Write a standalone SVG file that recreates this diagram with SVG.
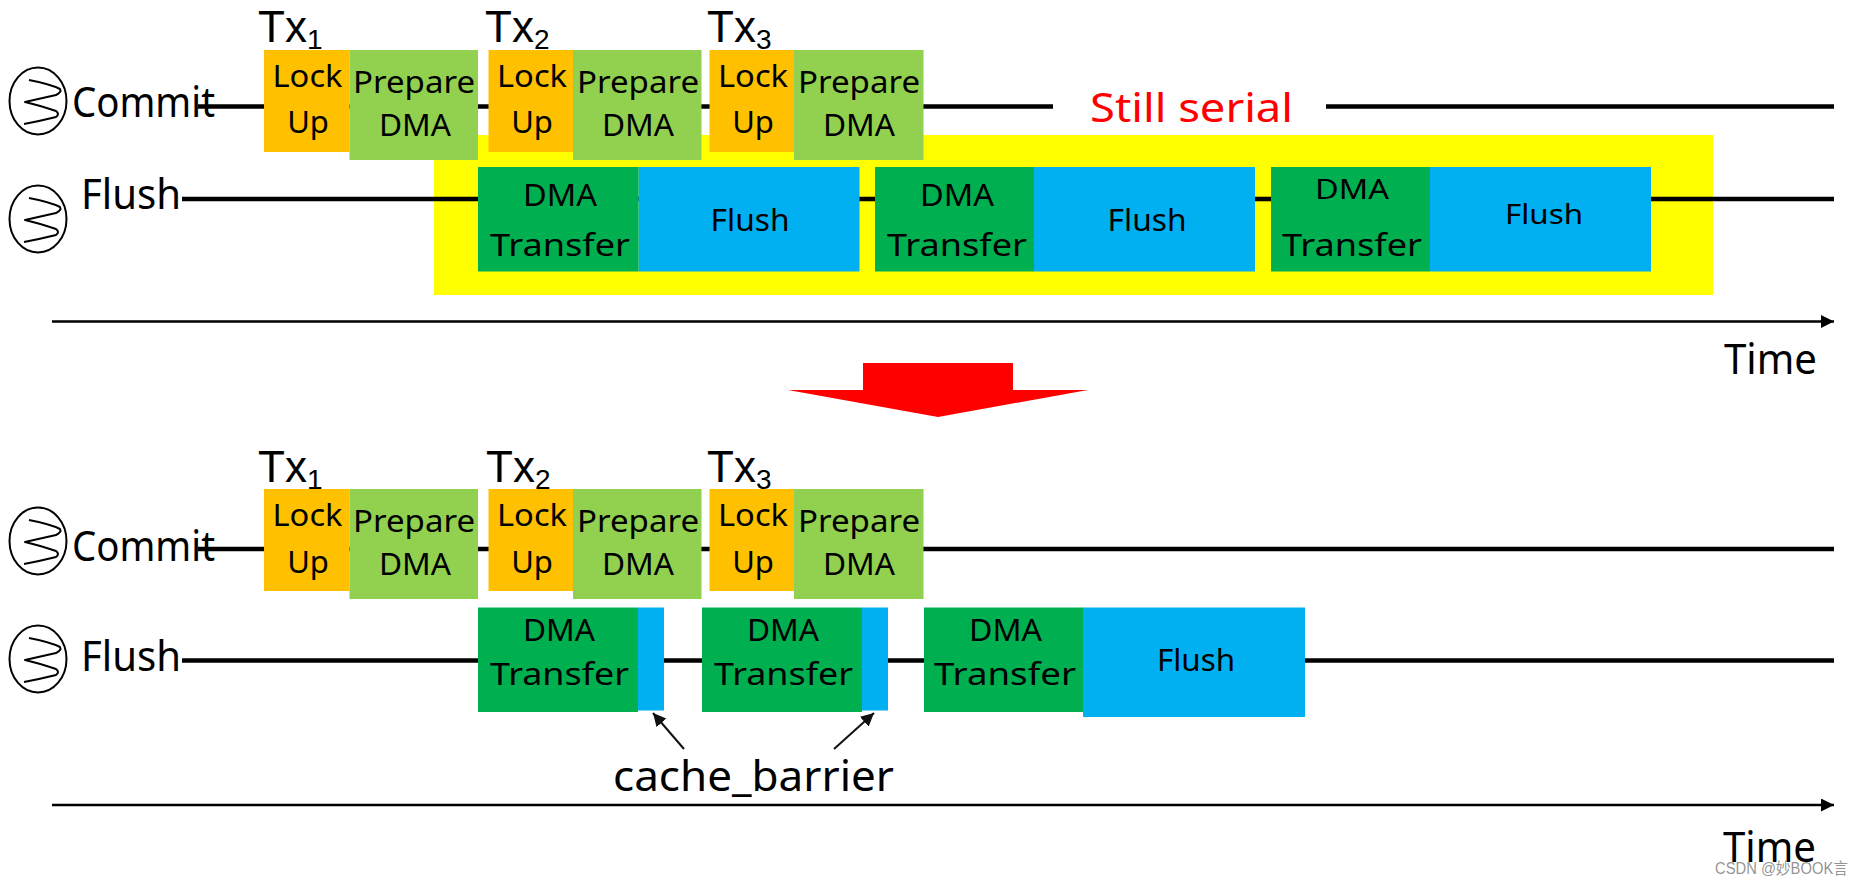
<svg xmlns="http://www.w3.org/2000/svg" width="1864" height="879" viewBox="0 0 1864 879">
<style>
text{font-family:"Noto Sans","DejaVu Sans",sans-serif;fill:#000}
.b{font-size:31px;text-anchor:middle}
.s{font-size:28px;text-anchor:middle}
.l{font-size:42px}
text.tx{font-family:"Liberation Sans",sans-serif;font-size:44px}
.sub{font-size:28px}
.o{fill:#FFC000}.g{fill:#92D050}.d{fill:#00B050}.c{fill:#00B0F0}
.ln{stroke:#000;stroke-width:4.5;fill:none}
.ax{stroke:#000;stroke-width:2.5;fill:none;marker-end:url(#tri)}
.ann{stroke:#111;stroke-width:2;fill:none;marker-end:url(#tri2)}
.th{fill:#fff;stroke:#000;stroke-width:2}
.zz{fill:none;stroke:#000;stroke-width:2;stroke-linejoin:round}
</style>
<defs>
<marker id="tri" markerUnits="userSpaceOnUse" markerWidth="14" markerHeight="14" refX="13" refY="6.5" orient="auto"><path d="M0 0L13 6.5L0 13Z" fill="#000"/></marker>
<marker id="tri2" markerUnits="userSpaceOnUse" markerWidth="14" markerHeight="14" refX="13" refY="6.5" orient="auto"><path d="M0 0L13 6.5L0 13Z" fill="#111"/></marker>
<g id="thread"><ellipse class="th" cx="38" cy="0" rx="28.5" ry="33.500"/><path class="zz" d="M29 -21Q50 -17 60 -12Q62 -9 56 -6Q38 -2 25 1Q38 4 56 10Q60 13 56 16Q40 20 24 23"/></g>
</defs>
<rect id="serial-band" x="434" y="135" width="1279" height="160" fill="#FFFF00"/>
<g id="connectors">
<path class="ln" d="M198 106.5H1053M1326 106.5H1834"/>
<path class="ln" d="M182 199H1834"/>
<path class="ln" d="M198 549H1834"/>
<path class="ln" d="M182 660.5H1834"/>
<path class="ax" d="M52 321.500H1834"/>
<path class="ax" d="M52 805H1834"/>
<path class="ann" d="M684 749L653 713"/>
<path class="ann" d="M834 749L874 713"/>
</g>
<g id="top-labels">
<use href="#thread" y="101"/>
<text class="l" x="72" y="117" textLength="143" lengthAdjust="spacingAndGlyphs">Commit</text>
<use href="#thread" y="219"/>
<text class="l" x="81" y="209" textLength="100" lengthAdjust="spacingAndGlyphs">Flush</text>
<text class="tx" x="258" y="42">Tx<tspan class="sub" dy="7">1</tspan></text>
<text class="tx" x="485" y="42">Tx<tspan class="sub" dy="7">2</tspan></text>
<text class="tx" x="707" y="42">Tx<tspan class="sub" dy="7">3</tspan></text>
</g>
<g id="top-commit-1"><rect class="o" x="264" y="50" width="85.500" height="102"/><text class="b" x="307.500" y="87" textLength="70" lengthAdjust="spacingAndGlyphs">Lock</text><text class="b" x="308" y="133">Up</text><rect class="g" x="349.500" y="50" width="128.500" height="110"/><text class="b" x="414" y="93" textLength="122" lengthAdjust="spacingAndGlyphs">Prepare</text><text class="b" x="415" y="136" textLength="72" lengthAdjust="spacingAndGlyphs">DMA</text></g>
<g id="top-commit-2"><rect class="o" x="488.500" y="50" width="84.500" height="102"/><text class="b" x="532" y="87" textLength="70" lengthAdjust="spacingAndGlyphs">Lock</text><text class="b" x="532" y="133">Up</text><rect class="g" x="573" y="50" width="128.500" height="110"/><text class="b" x="638" y="93" textLength="122" lengthAdjust="spacingAndGlyphs">Prepare</text><text class="b" x="638" y="136" textLength="72" lengthAdjust="spacingAndGlyphs">DMA</text></g>
<g id="top-commit-3"><rect class="o" x="709.500" y="50" width="84.500" height="102"/><text class="b" x="753" y="87" textLength="70" lengthAdjust="spacingAndGlyphs">Lock</text><text class="b" x="753" y="133">Up</text><rect class="g" x="794" y="50" width="129.500" height="110"/><text class="b" x="859" y="93" textLength="122" lengthAdjust="spacingAndGlyphs">Prepare</text><text class="b" x="859" y="136" textLength="72" lengthAdjust="spacingAndGlyphs">DMA</text></g>
<text id="still-serial" x="1090" y="122" font-size="40" style="fill:#FF0000" textLength="203" lengthAdjust="spacingAndGlyphs">Still serial</text>
<g id="top-flush-1"><rect class="d" x="478" y="167" width="160.500" height="104.500"/><text class="b" x="560" y="206" textLength="74" lengthAdjust="spacingAndGlyphs">DMA</text><text class="b" x="560" y="256" textLength="140" lengthAdjust="spacingAndGlyphs">Transfer</text><rect class="c" x="638.500" y="167" width="221" height="104.500"/><text class="b" x="750" y="231" textLength="79" lengthAdjust="spacingAndGlyphs">Flush</text></g>
<g id="top-flush-2"><rect class="d" x="875" y="167" width="159" height="104.500"/><text class="b" x="957" y="206" textLength="74" lengthAdjust="spacingAndGlyphs">DMA</text><text class="b" x="957" y="256" textLength="140" lengthAdjust="spacingAndGlyphs">Transfer</text><rect class="c" x="1034" y="167" width="221" height="104.500"/><text class="b" x="1147" y="231" textLength="79" lengthAdjust="spacingAndGlyphs">Flush</text></g>
<g id="top-flush-3"><rect class="d" x="1271" y="167" width="159" height="104.500"/><text class="s" x="1352" y="199" textLength="74" lengthAdjust="spacingAndGlyphs">DMA</text><text class="b" x="1352" y="256" textLength="140" lengthAdjust="spacingAndGlyphs">Transfer</text><rect class="c" x="1430" y="167" width="221" height="104.500"/><text class="s" x="1544" y="224" textLength="78" lengthAdjust="spacingAndGlyphs">Flush</text></g>
<text id="time-top" class="l" x="1724" y="374" textLength="93" lengthAdjust="spacingAndGlyphs">Time</text>
<polygon id="down-arrow" points="863,363 1013,363 1013,390 1088,390 938,417 788,390 863,390" fill="#FF0000"/>
<g id="bottom-labels">
<use href="#thread" y="541"/>
<text class="l" x="72" y="561" textLength="143" lengthAdjust="spacingAndGlyphs">Commit</text>
<use href="#thread" y="659"/>
<text class="l" x="81" y="671" textLength="100" lengthAdjust="spacingAndGlyphs">Flush</text>
<text class="tx" x="258" y="482">Tx<tspan class="sub" dy="7">1</tspan></text>
<text class="tx" x="486" y="482">Tx<tspan class="sub" dy="7">2</tspan></text>
<text class="tx" x="707" y="482">Tx<tspan class="sub" dy="7">3</tspan></text>
</g>
<g id="bottom-commit-1"><rect class="o" x="264" y="489" width="85.500" height="102"/><text class="b" x="307.500" y="526" textLength="70" lengthAdjust="spacingAndGlyphs">Lock</text><text class="b" x="308" y="573">Up</text><rect class="g" x="349.500" y="489" width="128.500" height="110"/><text class="b" x="414" y="532" textLength="122" lengthAdjust="spacingAndGlyphs">Prepare</text><text class="b" x="415" y="575" textLength="72" lengthAdjust="spacingAndGlyphs">DMA</text></g>
<g id="bottom-commit-2"><rect class="o" x="488.500" y="489" width="84.500" height="102"/><text class="b" x="532" y="526" textLength="70" lengthAdjust="spacingAndGlyphs">Lock</text><text class="b" x="532" y="573">Up</text><rect class="g" x="573" y="489" width="128.500" height="110"/><text class="b" x="638" y="532" textLength="122" lengthAdjust="spacingAndGlyphs">Prepare</text><text class="b" x="638" y="575" textLength="72" lengthAdjust="spacingAndGlyphs">DMA</text></g>
<g id="bottom-commit-3"><rect class="o" x="709.500" y="489" width="84.500" height="102"/><text class="b" x="753" y="526" textLength="70" lengthAdjust="spacingAndGlyphs">Lock</text><text class="b" x="753" y="573">Up</text><rect class="g" x="794" y="489" width="129.500" height="110"/><text class="b" x="859" y="532" textLength="122" lengthAdjust="spacingAndGlyphs">Prepare</text><text class="b" x="859" y="575" textLength="72" lengthAdjust="spacingAndGlyphs">DMA</text></g>
<g id="bottom-flush-1"><rect class="d" x="478" y="607.500" width="160" height="104.500"/><text class="b" x="559" y="641" textLength="72" lengthAdjust="spacingAndGlyphs">DMA</text><text class="b" x="559.500" y="685" textLength="139" lengthAdjust="spacingAndGlyphs">Transfer</text><rect class="c" x="638" y="607.500" width="26" height="103"/></g>
<g id="bottom-flush-2"><rect class="d" x="702" y="607.500" width="160" height="104.500"/><text class="b" x="783" y="641" textLength="72" lengthAdjust="spacingAndGlyphs">DMA</text><text class="b" x="783.500" y="685" textLength="139" lengthAdjust="spacingAndGlyphs">Transfer</text><rect class="c" x="862" y="607.500" width="26" height="103"/></g>
<g id="bottom-flush-3"><rect class="d" x="924" y="607.500" width="159" height="104.500"/><text class="b" x="1005.500" y="641" textLength="73" lengthAdjust="spacingAndGlyphs">DMA</text><text class="b" x="1005" y="685" textLength="142" lengthAdjust="spacingAndGlyphs">Transfer</text><rect class="c" x="1083" y="607.500" width="222" height="109.500"/><text class="b" x="1196" y="671" textLength="78" lengthAdjust="spacingAndGlyphs">Flush</text></g>
<text id="cache-barrier" x="613" y="791" font-size="42" textLength="281" lengthAdjust="spacingAndGlyphs">cache_barrier</text>
<text id="time-bottom" class="l" x="1723" y="862" textLength="93" lengthAdjust="spacingAndGlyphs">Time</text>
<text id="watermark" x="1715" y="874" font-size="16" style="font-family:'Liberation Sans','Noto Sans CJK SC',sans-serif;fill:#808080" fill-opacity="0.85" textLength="133" lengthAdjust="spacingAndGlyphs">CSDN @妙BOOK言</text>
</svg>
